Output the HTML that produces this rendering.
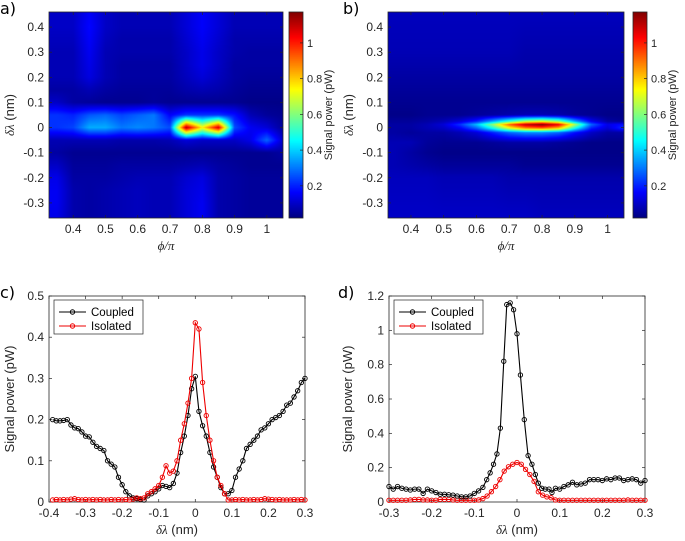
<!DOCTYPE html>
<html><head><meta charset="utf-8">
<style>
body{margin:0;background:#fff;width:685px;height:541px;overflow:hidden;position:relative;font-family:"Liberation Sans",sans-serif;}
canvas{position:absolute;}
svg{position:absolute;left:0;top:0;}
</style></head>
<body>
<canvas id="hmA" style="left:49px;top:12px" width="234" height="206"></canvas>
<canvas id="cbA" style="left:289px;top:12px" width="14" height="206"></canvas>
<canvas id="hmB" style="left:388px;top:12px" width="236" height="206"></canvas>
<canvas id="cbB" style="left:633px;top:12px" width="14" height="206"></canvas>
<svg id="svg" width="685" height="541"></svg>
<script>
// ---------- DATA ----------
const hmCols = [0.35,0.4,0.45,0.5,0.55,0.6,0.65,0.7,0.75,0.8,0.85,0.9,0.95,1.0,1.05];
const hmARows = [0.45,0.4,0.35,0.3,0.25,0.2,0.15,0.1,0.05,0.0,-0.05,-0.1,-0.15,-0.2,-0.25,-0.3,-0.35];
const hmAValues = [
[.10,.10,.16,.10,.08,.08,.08,.08,.12,.16,.12,.08,.08,.08,.08],
[.10,.10,.17,.10,.08,.08,.08,.08,.12,.16,.12,.08,.08,.08,.08],
[.09,.09,.16,.09,.07,.07,.07,.07,.11,.15,.11,.07,.07,.07,.07],
[.08,.08,.15,.08,.07,.07,.07,.07,.10,.14,.10,.07,.06,.06,.06],
[.08,.08,.14,.08,.06,.06,.06,.06,.10,.14,.10,.06,.06,.06,.06],
[.08,.08,.13,.08,.06,.06,.06,.06,.09,.12,.09,.06,.05,.05,.05],
[.06,.06,.08,.06,.05,.05,.05,.05,.07,.08,.07,.05,.04,.04,.04],
[.10,.06,.05,.04,.04,.04,.05,.04,.04,.04,.04,.04,.03,.03,.03],
[.22,.20,.26,.28,.24,.27,.30,.16,.22,.22,.22,.18,.08,.05,.04],
[.22,.24,.36,.36,.30,.32,.30,.25,1.12,.75,1.08,.25,.15,.12,.05],
[.08,.08,.08,.08,.07,.07,.07,.08,.12,.10,.10,.10,.14,.28,.10],
[.06,.04,.04,.04,.04,.04,.04,.04,.04,.04,.04,.04,.04,.04,.06],
[.10,.05,.05,.05,.06,.06,.06,.06,.07,.08,.06,.05,.04,.04,.04],
[.14,.06,.06,.06,.07,.08,.08,.08,.11,.13,.07,.06,.05,.05,.05],
[.15,.07,.06,.07,.08,.09,.08,.08,.12,.14,.07,.06,.05,.05,.05],
[.15,.07,.06,.07,.08,.09,.08,.08,.12,.15,.07,.06,.05,.05,.05],
[.14,.07,.06,.07,.08,.09,.08,.08,.12,.15,.07,.06,.05,.05,.05]];
const hmBRows = [0.46,0.3,0.2,0.1,0.05,0.025,0.012,-0.002,-0.02,-0.06,-0.1,-0.15,-0.2,-0.36];
const hmBValues = [
[.09,.09,.09,.09,.09,.09,.09,.09,.09,.09,.09,.09,.09,.09,.09],
[.08,.08,.08,.08,.08,.08,.08,.08,.07,.07,.07,.07,.07,.07,.07],
[.06,.06,.06,.06,.06,.06,.06,.06,.06,.06,.06,.06,.06,.06,.06],
[.04,.04,.04,.04,.04,.04,.04,.04,.04,.04,.04,.04,.04,.04,.04],
[.03,.03,.04,.04,.04,.05,.06,.07,.08,.08,.07,.05,.04,.03,.03],
[.05,.05,.06,.08,.12,.20,.35,.50,.65,.70,.60,.35,.15,.06,.04],
[.06,.06,.08,.12,.22,.38,.62,.92,1.10,1.17,1.05,.65,.28,.14,.18],
[.06,.06,.08,.10,.16,.28,.48,.72,.88,.92,.82,.48,.20,.12,.22],
[.06,.05,.06,.06,.08,.12,.20,.28,.32,.32,.28,.18,.10,.06,.06],
[.08,.08,.05,.04,.04,.04,.05,.06,.06,.06,.05,.04,.03,.03,.03],
[.08,.06,.04,.03,.03,.03,.03,.03,.03,.03,.03,.03,.03,.03,.03],
[.08,.07,.06,.05,.05,.05,.05,.05,.04,.04,.04,.04,.04,.04,.04],
[.09,.09,.09,.08,.08,.08,.08,.07,.07,.07,.07,.07,.07,.07,.07],
[.10,.10,.10,.10,.10,.10,.10,.10,.10,.09,.09,.09,.09,.09,.09]];

const cX = [-0.39,-0.38,-0.37,-0.36,-0.35,-0.34,-0.33,-0.32,-0.31,-0.30,-0.29,-0.28,-0.27,-0.26,-0.25,-0.24,-0.23,-0.22,-0.21,-0.20,-0.19,-0.18,-0.17,-0.16,-0.15,-0.14,-0.13,-0.12,-0.11,-0.10,-0.09,-0.08,-0.07,-0.06,-0.05,-0.04,-0.03,-0.02,-0.01,0.0,0.01,0.02,0.03,0.04,0.05,0.06,0.07,0.08,0.09,0.10,0.11,0.12,0.13,0.14,0.15,0.16,0.17,0.18,0.19,0.20,0.21,0.22,0.23,0.24,0.25,0.26,0.27,0.28,0.29,0.30];
const cCoupled = [.20,.197,.197,.198,.20,.187,.18,.178,.17,.16,.158,.145,.135,.13,.125,.10,.092,.085,.06,.042,.025,.015,.01,.008,.006,.005,.015,.02,.025,.032,.04,.038,.035,.045,.07,.12,.16,.21,.275,.305,.22,.185,.16,.12,.085,.06,.035,.02,.02,.028,.06,.08,.10,.13,.14,.15,.16,.175,.18,.19,.20,.205,.21,.22,.235,.24,.255,.27,.29,.30];
const cIsolated = [.005,.006,.005,.006,.005,.007,.008,.006,.005,.006,.005,.006,.005,.006,.005,.005,.006,.005,.006,.005,.006,.005,.007,.01,.008,.01,.02,.025,.032,.04,.06,.088,.07,.075,.10,.15,.19,.24,.30,.435,.42,.29,.21,.15,.10,.06,.04,.02,.005,.005,.006,.005,.006,.005,.005,.006,.005,.006,.008,.007,.006,.005,.006,.005,.005,.005,.006,.005,.006,.005];

const dCoupledX = [-.30,-.29,-.28,-.27,-.26,-.25,-.24,-.23,-.22,-.21,-.20,-.19,-.18,-.17,-.16,-.15,-.14,-.13,-.12,-.11,-.10,-.09,-.08,-.071,-.063,-.055,-.047,-.039,-.031,-.024,-.016,-.008,0,.008,.017,.026,.035,.043,.05,.058,.066,.075,.082,.09,.10,.11,.12,.13,.14,.15,.16,.17,.18,.19,.20,.21,.22,.23,.24,.25,.26,.27,.28,.29,.30];
const dCoupled = [.09,.075,.09,.08,.075,.07,.075,.075,.05,.075,.065,.055,.045,.045,.042,.04,.035,.03,.03,.035,.05,.065,.085,.13,.17,.22,.28,.43,.82,1.15,1.16,1.12,.98,.74,.48,.27,.22,.16,.11,.08,.075,.075,.055,.08,.075,.09,.10,.115,.10,.105,.11,.13,.13,.13,.125,.135,.13,.14,.14,.125,.13,.135,.13,.11,.125];
const dIsolatedX = [-.30,-.29,-.28,-.27,-.26,-.25,-.24,-.23,-.22,-.21,-.20,-.19,-.18,-.17,-.16,-.15,-.14,-.13,-.12,-.11,-.10,-.09,-.08,-.07,-.06,-.05,-.04,-.03,-.02,-.01,0,.01,.02,.03,.04,.05,.06,.07,.08,.09,.10,.11,.12,.13,.14,.15,.16,.17,.18,.19,.20,.21,.22,.23,.24,.25,.26,.27,.28,.29,.30];
const dIsolated = [.01,.01,.01,.01,.01,.012,.015,.015,.012,.012,.01,.01,.015,.015,.015,.012,.01,.01,.01,.01,.01,.012,.02,.035,.06,.09,.13,.18,.205,.22,.23,.22,.19,.16,.12,.06,.04,.03,.025,.012,.01,.01,.01,.01,.01,.01,.01,.01,.01,.01,.01,.01,.01,.01,.01,.01,.012,.01,.01,.01,.01];

const hmTicksX = [0.4,0.5,0.6,0.7,0.8,0.9,1];
const hmTicksY = [0.4,0.3,0.2,0.1,0,-0.1,-0.2,-0.3];
const cbTicks = [0.2,0.4,0.6,0.8,1];
const cTicksX = [-0.4,-0.3,-0.2,-0.1,0,0.1,0.2,0.3];
const cTicksY = [0,0.1,0.2,0.3,0.4,0.5];
const dTicksX = [-0.3,-0.2,-0.1,0,0.1,0.2,0.3];
const dTicksY = [0,0.2,0.4,0.6,0.8,1,1.2];

// ---------- HELPERS ----------
const CMIN=0.02, CMAX=1.173;
function jet(t){t=Math.max(0,Math.min(1,t));const c=v=>Math.round(255*Math.max(0,Math.min(1,v)));
 return [c(1.5-Math.abs(4*t-3)),c(1.5-Math.abs(4*t-2)),c(1.5-Math.abs(4*t-1))];}
function locate(arr,v){const desc=arr[0]>arr[arr.length-1];
 for(let i=0;i<arr.length-1;i++){const a=arr[i],b=arr[i+1];
  if(desc?(v<=a&&v>=b):(v>=a&&v<=b)) return [i,(v-a)/(b-a)];}
 if(desc) return v>arr[0]?[0,0]:[arr.length-2,1];
 return v<arr[0]?[0,0]:[arr.length-2,1];}
function drawHeat(id,rows,vals,x0,x1,y0,y1){
 const cv=document.getElementById(id),ctx=cv.getContext('2d'),W=cv.width,H=cv.height;
 const img=ctx.createImageData(W,H);
 for(let py=0;py<H;py++){const dl=y1-(py+0.5)/H*(y1-y0);const [ri,rt]=locate(rows,dl);
  for(let px=0;px<W;px++){const ph=x0+(px+0.5)/W*(x1-x0);const [ci,ct]=locate(hmCols,ph);
   const v=(vals[ri][ci]*(1-ct)+vals[ri][ci+1]*ct)*(1-rt)+(vals[ri+1][ci]*(1-ct)+vals[ri+1][ci+1]*ct)*rt;
   const c=jet((v-CMIN)/(CMAX-CMIN));const k=(py*W+px)*4;
   img.data[k]=c[0];img.data[k+1]=c[1];img.data[k+2]=c[2];img.data[k+3]=255;}}
 ctx.putImageData(img,0,0);}
function drawCb(id){const cv=document.getElementById(id),ctx=cv.getContext('2d');
 for(let py=0;py<cv.height;py++){const c=jet(1-(py+0.5)/cv.height);ctx.fillStyle=`rgb(${c[0]},${c[1]},${c[2]})`;ctx.fillRect(0,py,cv.width,1);}}
drawHeat('hmA',hmARows,hmAValues,0.325,1.05,-0.36,0.46);
drawHeat('hmB',hmBRows,hmBValues,0.33,1.05,-0.36,0.46);
drawCb('cbA');drawCb('cbB');

const svg=document.getElementById('svg');const NS='http://www.w3.org/2000/svg';
function el(tag,attrs,parent,text){const e=document.createElementNS(NS,tag);for(const k in attrs)e.setAttribute(k,attrs[k]);if(text!==undefined)e.textContent=text;(parent||svg).appendChild(e);return e;}
function fmt(v){return String(Math.round(v*10)/10);}
function makeAxes(name,L,R,T,B,xd,yd,xt,yt,xLabel,yLabel,yLabX){
 const sx=v=>L+(v-xd[0])/(xd[1]-xd[0])*(R-L), sy=v=>B-(v-yd[0])/(yd[1]-yd[0])*(B-T);
 const g=el('g',{});
 
 
 xt.forEach(v=>{const x=sx(v);
  el('line',{x1:x,x2:x,y1:B,y2:B-3,stroke:'#262626','stroke-width':0.7},g);
  el('line',{x1:x,x2:x,y1:T,y2:T+3,stroke:'#262626','stroke-width':0.7},g);
  const t=el('text',{x:x,y:B+15,'text-anchor':'middle','font-size':12,fill:'#262626'},g,fmt(v));
  
  });
 yt.forEach(v=>{const y=sy(v);
  el('line',{x1:L,x2:L+3,y1:y,y2:y,stroke:'#262626','stroke-width':0.7},g);
  el('line',{x1:R,x2:R-3,y1:y,y2:y,stroke:'#262626','stroke-width':0.7},g);
  const t=el('text',{x:L-5,y:y+4,'text-anchor':'end','font-size':12,fill:'#262626'},g,fmt(v));
  
  });
 el('rect',{x:L,y:T,width:R-L,height:B-T,fill:'none',stroke:'#262626','stroke-width':0.8},g);
 const xl=el('text',{x:(L+R)/2,y:B+32,'text-anchor':'middle','font-size':13,fill:'#262626'},g);
 
 
 xLabel(xl);
 const yl=el('text',{x:yLabX,y:(T+B)/2,'text-anchor':'middle','font-size':13,fill:'#262626',transform:`rotate(-90 ${yLabX} ${(T+B)/2})`},g);
 
 
 yLabel(yl);
 return {sx,sy};}
const phiLab=t=>{el('tspan',{'font-family':'Liberation Serif, serif','font-style':'italic'},t,'ϕ');el('tspan',{'font-family':'Liberation Serif, serif','font-style':'italic'},t,'/π');};
const dlLab=t=>{el('tspan',{'font-family':'Liberation Serif, serif','font-style':'italic'},t,'δλ');el('tspan',{},t,' (nm)');};
const spLab=t=>{t.textContent='Signal power (pW)';};

makeAxes('panel-a',49,283,12,218,[0.325,1.05],[-0.36,0.46],hmTicksX,hmTicksY,phiLab,dlLab,14);
makeAxes('panel-b',388,624,12,218,[0.33,1.05],[-0.36,0.46],hmTicksX,hmTicksY,phiLab,dlLab,353);
function colorbar(name,L){const g=el('g',{});
 
 
 const sy=v=>218-(v-CMIN)/(CMAX-CMIN)*206;
 el('rect',{x:L,y:12,width:14,height:206,fill:'none',stroke:'#262626','stroke-width':0.8},g);
 cbTicks.forEach(v=>{el('line',{x1:L+14,x2:L+11,y1:sy(v),y2:sy(v),stroke:'#262626','stroke-width':0.7},g);
  const t=el('text',{x:L+18,y:sy(v)+4,'font-size':11,fill:'#262626'},g,fmt(v));
  
  });
 const lx=L+43;const t=el('text',{x:lx,y:115,'text-anchor':'middle','font-size':11,fill:'#262626',transform:`rotate(-90 ${lx} 115)`},g,'Signal power (pW)');
 
 }
colorbar('colorbar-a-axis',289);colorbar('colorbar-b-axis',633);

function series(ax,xs,ys,color,name){const g=el('g',{});
 
 
 el('polyline',{points:xs.map((x,i)=>ax.sx(x)+','+ax.sy(ys[i])).join(' '),fill:'none',stroke:color,'stroke-width':1.1},g);
 xs.forEach((x,i)=>{const c=el('circle',{cx:ax.sx(x),cy:ax.sy(ys[i]),r:2.2,fill:'none',stroke:color,'stroke-width':0.9},g);
  
  });}
function legend(L,name){const g=el('g',{});
 
 
 el('rect',{x:L,y:300,width:89,height:34,fill:'#fff',stroke:'#262626','stroke-width':0.7},g);
 [['Coupled','#000',312],['Isolated','#e00',326]].forEach(([lab,c,y])=>{
  el('line',{x1:L+5,x2:L+32,y1:y,y2:y,stroke:c,'stroke-width':1.1},g);
  el('circle',{cx:L+18.5,cy:y,r:2.2,fill:'none',stroke:c},g);
  const t=el('text',{x:L+37,y:y+4,'font-size':11.5,fill:'#000'},g,lab);
  
  });}

const axC=makeAxes('panel-c',49,305,296,502,[-0.4,0.3],[0,0.5],cTicksX,cTicksY,dlLab,spLab,14);
series(axC,cX,cCoupled,'#000','c-coupled-series');
series(axC,cX,cIsolated,'#e00','c-isolated-series');
legend(54,'legend-c');
const axD=makeAxes('panel-d',389,645,296,502,[-0.3,0.3],[0,1.2],dTicksX,dTicksY,dlLab,spLab,352);
series(axD,dIsolatedX,dIsolated,'#e00','d-isolated-series');
series(axD,dCoupledX,dCoupled,'#000','d-coupled-series');
legend(394,'legend-d');

[['a)',0,14],['b)',343,14],['c)',0,298],['d)',338,298]].forEach(([s,x,y])=>{
 const t=el('text',{x:x,y:y,'font-size':16,'font-family':'DejaVu Sans, sans-serif',fill:'#000'},svg,s);
 
 });
</script>
</body></html>
